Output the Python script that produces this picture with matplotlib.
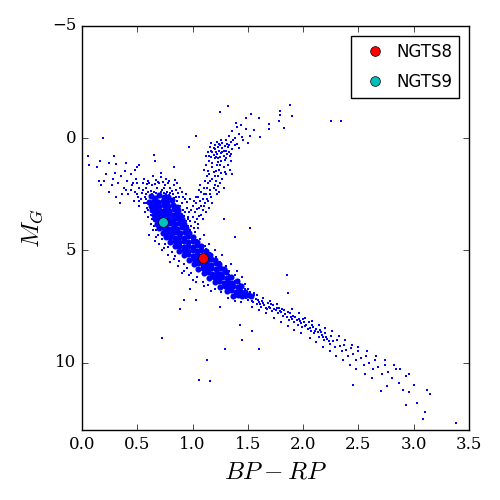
import matplotlib
matplotlib.use('Agg')
import matplotlib.pyplot as plt

# dichtes Hauptreihen-Band
ms_core = [
    (0.62, 2.58), (0.66, 2.65), (0.70, 2.55), (0.74, 2.63), (0.78, 2.60),
    (0.61, 2.82), (0.65, 2.78), (0.69, 2.85), (0.73, 2.79), (0.77, 2.84), (0.81, 2.77),
    (0.62, 3.02), (0.66, 2.97), (0.70, 3.04), (0.74, 2.99), (0.78, 3.03), (0.82, 2.98), (0.86, 3.05),
    (0.63, 3.22), (0.67, 3.18), (0.71, 3.24), (0.75, 3.19), (0.79, 3.23), (0.83, 3.17), (0.87, 3.21),
    (0.65, 3.42), (0.69, 3.38), (0.73, 3.44), (0.77, 3.39), (0.81, 3.43), (0.85, 3.37), (0.89, 3.41),
    (0.66, 3.62), (0.70, 3.58), (0.74, 3.64), (0.78, 3.59), (0.82, 3.63), (0.86, 3.57), (0.90, 3.62),
    (0.68, 3.82), (0.72, 3.78), (0.76, 3.84), (0.80, 3.79), (0.84, 3.83), (0.88, 3.77), (0.92, 3.81),
    (0.70, 4.02), (0.74, 3.98), (0.78, 4.04), (0.82, 3.99), (0.86, 4.03), (0.90, 3.97), (0.94, 4.01),
    (0.73, 4.22), (0.77, 4.18), (0.81, 4.24), (0.85, 4.19), (0.89, 4.23), (0.93, 4.17), (0.97, 4.21),
    (0.76, 4.42), (0.80, 4.38), (0.84, 4.44), (0.88, 4.39), (0.92, 4.43), (0.96, 4.37), (1.00, 4.41),
    (0.80, 4.62), (0.84, 4.58), (0.88, 4.64), (0.92, 4.59), (0.96, 4.63), (1.00, 4.57), (1.04, 4.61),
    (0.84, 4.82), (0.88, 4.78), (0.92, 4.84), (0.96, 4.79), (1.00, 4.83), (1.04, 4.77), (1.08, 4.81),
    (0.88, 5.02), (0.92, 4.98), (0.96, 5.04), (1.00, 4.99), (1.04, 5.03), (1.08, 4.97), (1.12, 5.01),
    (0.92, 5.22), (0.96, 5.18), (1.00, 5.24), (1.04, 5.19), (1.08, 5.23), (1.12, 5.17), (1.16, 5.21),
    (0.97, 5.42), (1.01, 5.38), (1.05, 5.44), (1.09, 5.39), (1.13, 5.43), (1.17, 5.37), (1.20, 5.41),
    (1.01, 5.62), (1.05, 5.58), (1.09, 5.64), (1.13, 5.59), (1.17, 5.63), (1.21, 5.57), (1.24, 5.61),
    (1.05, 5.82), (1.09, 5.78), (1.13, 5.84), (1.17, 5.79), (1.21, 5.83), (1.25, 5.77), (1.28, 5.81),
    (1.10, 6.02), (1.14, 5.98), (1.18, 6.04), (1.22, 5.99), (1.26, 6.03), (1.30, 5.97),
    (1.15, 6.22), (1.19, 6.18), (1.23, 6.24), (1.27, 6.19), (1.31, 6.23), (1.35, 6.17),
    (1.20, 6.42), (1.24, 6.38), (1.28, 6.44), (1.32, 6.39), (1.36, 6.43), (1.40, 6.37),
    (1.25, 6.62), (1.29, 6.58), (1.33, 6.64), (1.37, 6.59), (1.41, 6.63), (1.44, 6.57),
    (1.31, 6.82), (1.35, 6.78), (1.39, 6.84), (1.43, 6.79), (1.47, 6.83),
    (1.37, 7.02), (1.41, 6.98), (1.45, 7.04), (1.49, 6.99), (1.53, 7.03),
]

# Rand um das Band
ms_halo = [
    (0.55, 2.3), (0.58, 2.5), (0.56, 2.9), (0.59, 3.1), (0.60, 3.5), (0.62, 3.8),
    (0.64, 4.1), (0.67, 4.4), (0.70, 4.7), (0.74, 4.9), (0.78, 5.2), (0.83, 5.4),
    (0.87, 5.7), (0.92, 5.9), (0.97, 6.1), (1.03, 6.4), (1.10, 6.6), (1.17, 6.8),
    (0.53, 2.7), (0.57, 3.3), (0.61, 4.3), (0.66, 4.6), (0.72, 5.0), (0.80, 5.5),
    (0.90, 6.0), (1.00, 6.3), (0.50, 2.5), (0.52, 3.0),
    (0.85, 2.6), (0.90, 2.9), (0.93, 3.3), (0.96, 3.6), (0.99, 3.9), (1.02, 4.2),
    (1.07, 4.5), (1.11, 4.8), (1.16, 5.1), (1.21, 5.3), (1.25, 5.5), (1.30, 5.7),
    (1.33, 5.9), (1.38, 6.1), (1.42, 6.3), (1.47, 6.5), (1.50, 6.7), (1.56, 6.9),
    (0.95, 3.1), (1.00, 3.5), (1.05, 4.0), (1.10, 4.3), (1.15, 4.7), (1.20, 5.0),
    (1.27, 5.2), (1.35, 5.6), (1.40, 5.9), (1.45, 6.2),
    (0.58, 2.7), (0.60, 2.4), (0.63, 2.5), (0.67, 2.45), (0.71, 2.4), (0.76, 2.5),
    (0.80, 2.45), (0.83, 2.65), (0.86, 2.8), (0.89, 3.0), (0.91, 3.2), (0.92, 3.45),
    (0.94, 3.7), (0.96, 3.9), (0.98, 4.1), (1.01, 4.35), (1.04, 4.55), (1.08, 4.75),
    (1.12, 4.95), (1.16, 5.3), (1.20, 5.55), (1.24, 5.75), (1.29, 5.95), (1.33, 6.1),
    (1.38, 6.35), (1.43, 6.5), (1.47, 6.7), (1.52, 6.85),
    (0.58, 2.9), (0.60, 3.2), (0.62, 3.4), (0.63, 3.6), (0.65, 3.9), (0.67, 4.1),
    (0.69, 4.3), (0.72, 4.5), (0.75, 4.7), (0.78, 4.85), (0.81, 5.05), (0.84, 5.25),
    (0.88, 5.45), (0.92, 5.6), (0.95, 5.8), (0.99, 6.0), (1.04, 6.2), (1.09, 6.4),
    (1.14, 6.55), (1.20, 6.7), (1.26, 6.85), (1.32, 7.1), (1.38, 7.25), (1.44, 7.3),
]

# Abknickpunkt und blaue Sterne
turnoff = [
    (0.45, 2.1), (0.48, 2.4), (0.52, 2.2), (0.55, 2.0), (0.58, 2.2), (0.60, 1.9),
    (0.63, 2.1), (0.65, 2.4), (0.68, 2.2), (0.70, 2.0), (0.72, 2.3), (0.75, 2.1),
    (0.77, 2.4), (0.80, 2.2), (0.82, 2.5), (0.85, 2.3), (0.88, 2.6), (0.90, 2.4),
    (0.93, 2.7), (0.62, 2.35), (0.67, 1.85), (0.73, 1.95), (0.78, 2.0), (0.83, 2.1),
    (0.86, 2.0), (0.42, 2.5), (0.47, 2.8), (0.40, 2.3), (0.69, 2.55), (0.74, 2.45),
    (0.79, 2.55), (0.57, 2.6), (0.54, 2.45), (0.64, 1.7), (0.71, 1.75), (0.76, 1.8),
    (0.84, 1.85),
    (0.50, 2.0), (0.56, 1.8), (0.61, 2.0), (0.66, 2.05), (0.74, 2.2), (0.81, 2.35),
    (0.87, 2.45), (0.91, 2.6), (0.95, 2.85), (0.44, 2.3), (0.52, 2.8), (0.59, 2.05),
    (0.69, 1.95), (0.79, 1.9), (0.89, 2.2), (0.94, 2.5), (0.98, 2.7),
]
blue_stars = [
    (0.05, 0.8), (0.06, 1.2), (0.19, 0.0), (0.29, 0.8), (0.65, 0.75), (0.24, 1.1),
    (0.14, 1.3), (0.15, 1.9), (0.31, 1.15), (0.40, 1.1), (0.48, 1.4), (0.52, 1.2),
    (0.66, 1.0), (0.83, 1.3), (0.71, 1.55), (0.97, 0.4), (1.03, -0.1), (0.16, 1.0),
    (0.20, 1.9), (0.22, 1.6), (0.24, 2.4), (0.28, 1.8), (0.30, 1.55), (0.33, 2.0),
    (0.35, 1.7), (0.38, 2.2), (0.27, 2.1), (0.31, 2.6), (0.36, 2.5), (0.41, 1.9),
    (0.44, 1.6), (0.46, 2.0), (0.49, 1.8), (0.51, 2.6), (0.17, 2.1), (0.39, 1.45),
    (0.50, 1.3), (0.34, 2.9),
]

# Unterriesen, Riesenast, Red Clump
giants = [
    (0.95, 3.9), (0.98, 3.7), (1.00, 3.5), (1.02, 3.3), (1.04, 3.6), (1.06, 3.1),
    (1.08, 3.4), (1.00, 3.0), (1.03, 2.9), (1.07, 2.8), (1.10, 3.0), (1.12, 3.3),
    (1.05, 3.8), (0.97, 3.3), (1.15, 3.1), (1.09, 3.6), (1.13, 2.7), (1.01, 4.0),
    (1.18, 2.9),
    (1.05, 2.6), (1.08, 2.4), (1.10, 2.2), (1.12, 2.5), (1.14, 2.0), (1.16, 2.3),
    (1.18, 1.8), (1.20, 2.1), (1.22, 2.5), (1.11, 1.9), (1.15, 1.6), (1.19, 1.5),
    (1.23, 1.7), (1.25, 2.0), (1.09, 2.7), (1.13, 2.2), (1.17, 2.6), (1.21, 2.3),
    (1.27, 1.8), (1.24, 2.4), (1.07, 2.1), (1.28, 2.2), (1.30, 1.6),
    (1.12, 1.2), (1.15, 1.0), (1.18, 1.3), (1.20, 0.9), (1.22, 1.2), (1.24, 1.4),
    (1.26, 1.0), (1.28, 1.3), (1.30, 0.9), (1.32, 1.2), (1.14, 1.45), (1.17, 0.85),
    (1.23, 1.05), (1.29, 1.5), (1.34, 1.4), (1.35, 1.0), (1.10, 1.4), (1.36, 1.6),
    (1.16, 0.4), (1.18, 0.6), (1.20, 0.3), (1.20, 0.5), (1.22, 0.7), (1.23, 0.4),
    (1.24, 0.55), (1.25, 0.3), (1.26, 0.65), (1.27, 0.45), (1.28, 0.8), (1.29, 0.35),
    (1.30, 0.55), (1.31, 0.7), (1.32, 0.4), (1.33, 0.6), (1.19, 0.75), (1.21, 0.85),
    (1.25, 0.85), (1.34, 0.8), (1.17, 0.2), (1.22, 0.15), (1.27, 0.2), (1.30, 0.1),
    (1.36, 0.5), (1.14, 0.6), (1.12, 0.8), (1.38, 0.3),
    (0.96, 3.5), (0.99, 3.2), (1.02, 3.75), (1.04, 3.15), (1.06, 3.45), (1.09, 3.2),
    (1.11, 2.9), (1.14, 2.8), (1.16, 2.5), (1.19, 2.2), (1.21, 1.9), (1.23, 2.15),
    (1.26, 1.55), (1.18, 1.1), (1.21, 1.45), (1.25, 1.2), (1.27, 0.6), (1.29, 0.95),
    (1.31, 0.25), (1.23, 0.9), (1.19, 0.45), (1.15, 0.8), (1.26, 0.1), (1.33, 0.3),
    (1.35, 0.7), (1.37, 0.1), (1.40, 0.25), (1.42, 0.45), (1.28, 0.55), (1.24, 0.25),
    (1.21, 0.6), (1.17, 0.55), (1.10, 2.5), (1.13, 1.7), (1.16, 1.9), (1.20, 1.7),
    (1.06, 2.3), (1.03, 2.6), (1.01, 2.8), (1.08, 3.0),
    (1.33, -0.1), (1.36, -0.3), (1.38, 0.0), (1.40, -0.5), (1.42, -0.2), (1.44, -0.6),
    (1.46, 0.1), (1.48, -0.4), (1.50, 0.2), (1.52, -0.1), (1.35, 0.15), (1.45, -0.05),
    (1.39, -0.7),
    (1.32, -1.45), (1.25, -1.15), (1.53, -1.1), (1.60, -0.9), (1.69, -0.65),
    (1.69, -0.4), (1.78, -0.75), (1.79, -1.05), (1.88, -1.5), (1.90, -1.0),
    (1.83, -0.45), (1.61, -0.05), (1.56, -0.35), (1.48, -0.9), (1.79, -1.2),
    (2.25, -0.75), (2.34, -0.75),
]

# untere Hauptreihe
ms_lower = [
    (1.50, 7.2), (1.53, 7.1), (1.55, 7.3), (1.57, 7.15), (1.58, 7.4), (1.60, 7.3),
    (1.62, 7.5), (1.63, 7.25), (1.65, 7.45), (1.67, 7.6), (1.68, 7.35), (1.70, 7.55),
    (1.72, 7.7), (1.73, 7.45), (1.75, 7.65), (1.77, 7.8), (1.78, 7.55), (1.80, 7.75),
    (1.82, 7.9), (1.83, 7.65), (1.85, 7.95), (1.87, 8.1), (1.88, 7.8), (1.90, 8.05),
    (1.92, 8.2), (1.93, 7.95), (1.95, 8.3), (1.97, 8.15), (1.99, 8.4), (2.00, 8.05),
    (2.02, 8.35), (2.04, 8.5), (2.05, 8.2), (2.07, 8.6), (2.09, 8.4), (2.10, 8.7),
    (2.12, 8.5), (2.14, 8.85), (2.15, 8.55), (2.17, 8.75), (2.19, 9.0), (2.20, 8.7),
    (2.22, 8.95), (2.24, 9.15), (2.25, 8.8), (2.27, 9.05), (2.29, 9.3), (2.31, 9.0),
    (2.33, 9.25), (2.35, 9.5), (2.37, 9.2), (2.39, 9.45), (2.41, 9.7), (2.43, 9.35),
    (2.45, 9.6), (2.48, 9.9), (2.50, 9.5), (2.52, 9.8), (2.55, 10.1), (2.57, 9.7),
    (2.60, 10.0), (2.63, 10.3), (2.65, 9.9), (2.68, 10.2), (2.71, 10.5), (2.74, 10.1),
    (2.77, 10.4), (2.80, 10.7), (2.84, 10.3), (2.87, 10.9), (2.90, 11.2), (2.93, 10.6),
    (2.96, 11.3), (3.00, 11.0), (3.12, 11.2), (3.15, 11.4), (2.70, 11.25), (2.76, 11.05),
    (2.93, 11.9), (3.03, 11.8), (3.10, 12.2), (3.08, 12.5), (3.38, 12.7),
    (1.52, 6.9), (1.58, 7.0), (1.64, 7.1), (1.70, 7.25), (1.76, 7.4), (1.54, 7.5),
    (1.60, 7.65), (1.66, 7.8), (1.74, 8.0), (1.80, 8.2), (1.86, 8.35), (1.92, 8.55),
    (1.98, 8.7), (1.90, 7.6), (1.96, 7.8), (2.02, 8.0), (2.08, 8.15), (2.14, 8.3),
    (2.20, 8.45), (2.26, 8.6), (2.32, 8.8), (2.38, 9.0), (2.44, 9.2), (2.50, 9.3),
    (2.06, 8.9), (2.12, 9.1), (2.18, 9.3), (2.24, 9.5), (2.30, 9.7), (2.36, 9.9),
    (2.42, 10.1), (2.48, 10.3), (2.56, 10.5), (2.62, 10.7), (2.58, 9.5), (2.66, 9.7),
    (2.74, 9.9), (2.82, 10.1), (2.88, 10.3), (2.96, 10.5), (2.45, 11.0),
    (1.46, 6.9), (1.48, 7.1), (1.51, 7.05), (1.54, 7.25), (1.56, 7.0), (1.59, 7.2),
    (1.61, 7.4), (1.64, 7.35), (1.66, 7.55), (1.69, 7.5), (1.71, 7.4), (1.74, 7.6),
    (1.76, 7.55), (1.79, 7.7), (1.81, 7.6), (1.84, 7.85), (1.86, 7.75), (1.89, 7.95),
    (1.91, 7.9), (1.94, 8.1), (1.96, 8.05), (1.98, 8.25), (2.01, 8.2), (2.03, 8.3),
    (2.06, 8.45), (2.08, 8.3), (2.11, 8.6), (2.13, 8.65), (2.16, 8.65), (2.18, 8.85),
    (2.21, 8.85), (2.23, 9.05),
]

# Ausreisser
outliers = [
    (0.72, 8.9), (1.16, 10.8), (1.13, 9.9), (1.06, 10.75), (1.29, 9.4), (1.45, 9.0),
    (1.60, 9.4), (1.43, 8.3), (1.54, 8.6), (1.03, 7.2), (0.92, 7.2), (0.89, 7.6),
    (1.85, 6.1), (1.86, 6.9), (1.25, 7.5), (0.98, 6.7), (1.52, 4.0), (1.38, 4.4),
    (1.28, 3.6),
]

# Zielsterne
targets = ['NGTS8', 'NGTS9']
target_bprp = [1.09, 0.73]
target_mg = [5.33, 3.73]
target_colors = ['r', 'c']


def unzip(points):
    return [p[0] for p in points], [p[1] for p in points]


def main():
    plt.style.use('classic')
    fig = plt.figure(figsize=(5, 5), dpi=100, facecolor='white')
    ax = fig.add_axes([0.164, 0.14, 0.774, 0.808])

    x, y = unzip(ms_core)
    ax.plot(x, y, 'o', color='b', markersize=4.4, markeredgewidth=0)
    for group in [ms_halo, turnoff, blue_stars, giants, ms_lower, outliers]:
        x, y = unzip(group)
        ax.plot(x, y, 's', color='b', markersize=1.7, markeredgewidth=0)

    for name, bx, my, col in zip(targets, target_bprp, target_mg, target_colors):
        ax.plot(bx, my, 'o', color=col, markersize=7, markeredgecolor='k',
                markeredgewidth=0.5, label=name)

    ax.set_xlim(0, 3.5)
    ax.set_ylim(13, -5)
    ax.set_xticks([0.0, 0.5, 1.0, 1.5, 2.0, 2.5, 3.0, 3.5])
    ax.set_yticks([-5, 0, 5, 10])
    for lab in ax.get_xticklabels() + ax.get_yticklabels():
        lab.set_family('DejaVu Serif')
        lab.set_fontsize(12)

    ax.set_xlabel('$BP-RP$', fontsize=18)
    ax.set_ylabel('$M_G$', fontsize=18)

    ax.legend(loc='upper right', numpoints=1, handletextpad=0.3,
              labelspacing=0.75, borderaxespad=0.6,
              prop={'family': 'DejaVu Sans', 'size': 12})

    fig.savefig('out.png', dpi=100, facecolor='white')


if __name__ == "__main__":
    main()
